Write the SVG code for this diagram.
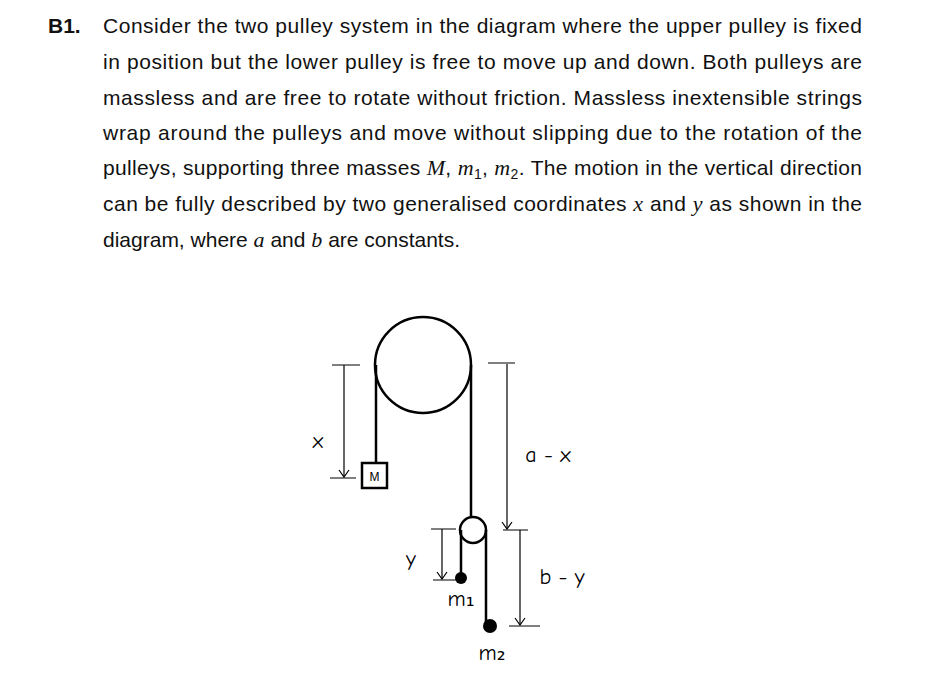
<svg xmlns="http://www.w3.org/2000/svg" width="948" height="691" viewBox="0 0 948 691">
<style>
.t{font-family:"Liberation Sans",Arial,sans-serif;font-size:21px;fill:#111}
.m{font-family:"Liberation Serif",serif;font-style:italic;font-size:22px}
.s{fill:none;stroke:#000;stroke-width:2.5}
.d{fill:none;stroke:#000;stroke-width:1.2}
.h{font-family:"Comic Neue","DejaVu Sans",sans-serif;font-size:22px;fill:#000}
</style>
<defs><marker id="a" markerWidth="12" markerHeight="12" refX="11" refY="6" orient="auto" markerUnits="userSpaceOnUse"><path d="M4,1 L11,6 L4,11" fill="none" stroke="#000" stroke-width="1.2"/></marker></defs>
<rect width="948" height="691" fill="#fff"/>
<g id="text">
<text class="t" x="48" y="33" font-weight="bold">B1.</text>
<text class="t" x="103" y="33" textLength="759" lengthAdjust="spacing">Consider the two pulley system in the diagram where the upper pulley is fixed</text>
<text class="t" x="103" y="69" textLength="759" lengthAdjust="spacing">in position but the lower pulley is free to move up and down. Both pulleys are</text>
<text class="t" x="103" y="105" textLength="759" lengthAdjust="spacing">massless and are free to rotate without friction. Massless inextensible strings</text>
<text class="t" x="103" y="140" textLength="759" lengthAdjust="spacing">wrap around the pulleys and move without slipping due to the rotation of the</text>
<text class="t" x="103" y="175" textLength="759" lengthAdjust="spacing">pulleys, supporting three masses <tspan class="m">M</tspan>, <tspan class="m">m</tspan><tspan font-size="14" dy="4">1</tspan><tspan dy="-4">, </tspan><tspan class="m">m</tspan><tspan font-size="14" dy="4">2</tspan><tspan dy="-4">. The motion in the vertical direction</tspan></text>
<text class="t" x="103" y="211" textLength="759" lengthAdjust="spacing">can be fully described by two generalised coordinates <tspan class="m">x</tspan> and <tspan class="m">y</tspan> as shown in the</text>
<text class="t" x="103" y="247">diagram, where <tspan class="m">a</tspan> and <tspan class="m">b</tspan> are constants.</text>
</g>
<g id="upper-pulley"><circle class="s" cx="423" cy="365" r="48"/></g>
<g id="lower-pulley"><circle class="s" cx="473" cy="530" r="13"/></g>
<g id="mass-M"><rect x="362" y="463" width="25" height="25" fill="#fff" stroke="#000" stroke-width="2.5"/><text x="374.5" y="481" text-anchor="middle" font-family="Liberation Sans,sans-serif" font-size="12">M</text></g>
<g id="mass-m1"><circle cx="461" cy="578" r="6"/><text class="h" x="461" y="606" text-anchor="middle" font-size="16">m₁</text></g>
<g id="mass-m2"><circle cx="490" cy="626" r="7"/><text class="h" x="492" y="660" text-anchor="middle" font-size="16">m₂</text></g>
<g id="connectors">
<path class="s" d="M376,365 V463 M471,365 V518 M461,530 V575 M486,530 V622"/>
<path class="d" d="M332,365 H360 M330,478 H356 M488,363 H515 M503,530 H528 M431,529 H456 M433,580 H456 M509,626 H540"/>
<path class="d" d="M344,365 V477" marker-end="url(#a)"/>
<path class="d" d="M507,364 V529" marker-end="url(#a)"/>
<path class="d" d="M520,530 V625" marker-end="url(#a)"/>
<path class="d" d="M442,529 V579" marker-end="url(#a)"/>
</g>
<g id="labels">
<text class="h" x="318" y="448" text-anchor="middle">x</text>
<text class="h" x="548" y="462" text-anchor="middle">a - x</text>
<text class="h" x="562" y="584" text-anchor="middle">b - y</text>
<text class="h" x="411" y="566" text-anchor="middle">y</text>
</g>
</svg>
